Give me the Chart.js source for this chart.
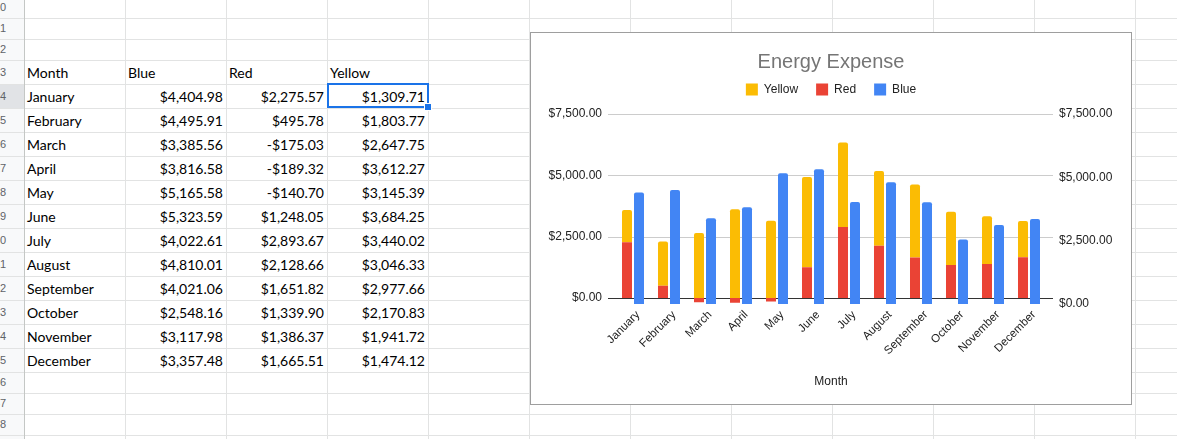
<!DOCTYPE html>
<html><head><meta charset="utf-8">
<script src="https://cdn.jsdelivr.net/npm/chart.js@4.4.1/dist/chart.umd.min.js"></script>
<style>
html,body{margin:0;padding:0;background:#fff;}
body{width:1177px;height:439px;overflow:hidden;position:relative;font-family:Lato,'Liberation Sans',Arial,sans-serif;}
.hl{position:absolute;left:0;width:1177px;height:1px;background:#e2e3e3;}
.vl{position:absolute;top:0;height:439px;width:1px;background:#e2e3e3;}
.rh{position:absolute;left:0;top:0;width:24px;height:439px;background:#f8f9fa;}
.rhs{position:absolute;left:0;width:24px;background:#e1e3e6;}
.rn{position:absolute;left:-21px;width:42px;text-align:center;font:11px 'Liberation Sans',Arial,sans-serif;color:#5f6368;}
.cell{position:absolute;height:24px;line-height:24px;font-size:14px;color:#000;white-space:nowrap;box-sizing:border-box;overflow:hidden;}
.l{text-align:left;padding-left:3px;}
.r{text-align:right;padding-right:3px;}
#sel{position:absolute;left:327px;top:83px;width:102px;height:25px;border:2px solid #1a73e8;box-sizing:border-box;}
#handle{position:absolute;left:424px;top:103px;width:8px;height:8px;background:#1a73e8;border:1px solid #fff;box-sizing:border-box;}
#chartBox{position:absolute;left:530px;top:32px;width:602px;height:373px;border:1px solid #9e9e9e;box-sizing:border-box;background:#fff;}
#c{display:block;}
</style></head>
<body>
<div id="sheet"></div>
<div id="chartBox"><canvas id="c" width="600" height="371"></canvas></div>
<script>
// ---- data ----
const months = ['January','February','March','April','May','June','July','August','September','October','November','December'];
const blueValues = [4404.98, 4495.91, 3385.56, 3816.58, 5165.58, 5323.59, 4022.61, 4810.01, 4021.06, 2548.16, 3117.98, 3357.48];
const redValues = [2275.57, 495.78, -175.03, -189.32, -140.70, 1248.05, 2893.67, 2128.66, 1651.82, 1339.90, 1386.37, 1665.51];
const yellowValues = [1309.71, 1803.77, 2647.75, 3612.27, 3145.39, 3684.25, 3440.02, 3046.33, 2977.66, 2170.83, 1941.72, 1474.12];
const leftTicks = [0, 2500, 5000, 7500];
const rightTicks = [0, 2500, 5000, 7500];
const legendOrder = ['Yellow', 'Red', 'Blue'];
const headers = ['Month', 'Blue', 'Red', 'Yellow'];
const rowNumbers = [20,21,22,23,24,25,26,27,28,29,30,31,32,33,34,35,36,37,38,39];

const fmt = v => (v < 0 ? '-' : '') + '$' + Math.abs(v).toLocaleString('en-US', {minimumFractionDigits: 2, maximumFractionDigits: 2});

// ---- spreadsheet background ----
(function buildSheet(){
  const sheet = document.getElementById('sheet');
  const add = (cls, style, text) => {
    const d = document.createElement('div');
    d.className = cls;
    Object.assign(d.style, style);
    if (text !== undefined) d.textContent = text;
    sheet.appendChild(d);
    return d;
  };
  add('rh', {});
  const rowTops = [];
  let y = -3;
  rowNumbers.forEach(n => {
    const h = (n >= 23 && n <= 35) ? 24 : 21;
    rowTops.push({n, top: y, h});
    y += h;
  });
  rowTops.forEach(r => { if (r.n === 24) add('rhs', {top: r.top + 'px', height: r.h + 'px'}); });
  rowTops.forEach(r => {
    add('hl', {top: (r.top + r.h) + 'px'});
    add('rn', {top: r.top + 'px', height: r.h + 'px', lineHeight: r.h + 'px'}, String(r.n));
  });
  for (let x = 125; x < 1177; x += 101) add('vl', {left: x + 'px'});
  add('vl', {left: '24px', background: '#c4c7c5'});
  const colLeft = [24, 125, 226, 327];
  const rowTop = n => rowTops.find(r => r.n === n).top + 1;
  headers.forEach((h, i) => add('cell l', {left: colLeft[i] + 'px', width: '101px', top: rowTop(23) + 'px'}, h));
  months.forEach((m, i) => {
    const t = rowTop(24 + i) + 'px';
    add('cell l', {left: '24px', width: '101px', top: t}, m);
    add('cell r', {left: '126px', width: '100px', top: t}, fmt(blueValues[i]));
    add('cell r', {left: '227px', width: '100px', top: t}, fmt(redValues[i]));
    add('cell r', {left: '328px', width: '100px', top: t}, fmt(yellowValues[i]));
  });
  const sel = document.createElement('div'); sel.id = 'sel'; sheet.appendChild(sel);
  const hd = document.createElement('div'); hd.id = 'handle'; sheet.appendChild(hd);
})();

// ---- chart ----
const chartFont = "'Liberation Sans', Arial, sans-serif";

const gridPlugin = {
  id: 'sheetGrid',
  beforeDatasetsDraw(chart) {
    const {ctx, chartArea: a, scales: {y}} = chart;
    ctx.save();
    leftTicks.forEach(v => {
      const py = Math.round(y.getPixelForValue(v)) + 0.5;
      ctx.beginPath();
      ctx.strokeStyle = v === 0 ? '#333333' : '#cccccc';
      ctx.lineWidth = 1;
      ctx.moveTo(a.left - 7, py);
      ctx.lineTo(a.right + 6, py);
      ctx.stroke();
    });
    ctx.restore();
  }
};

new Chart(document.getElementById('c'), {
  type: 'bar',
  data: {
    labels: months,
    datasets: [
      {label: 'Red', data: redValues, backgroundColor: '#ea4335', stack: 'ry', yAxisID: 'y', borderRadius: 0},
      {label: 'Yellow', data: yellowValues, backgroundColor: '#fbbc04', stack: 'ry', yAxisID: 'y',
        borderRadius: {topLeft: 2, topRight: 2, bottomLeft: 0, bottomRight: 0}},
      {label: 'Blue', data: blueValues, backgroundColor: '#4285f4', stack: 'b', yAxisID: 'y1',
        borderRadius: {topLeft: 2, topRight: 2, bottomLeft: 0, bottomRight: 0}}
    ]
  },
  options: {
    responsive: false,
    animation: false,
    devicePixelRatio: 1,
    layout: {padding: 0},
    datasets: {bar: {categoryPercentage: 0.6667, barPercentage: 0.8333}},
    plugins: {
      title: {
        display: true, text: 'Energy Expense', color: '#757575',
        font: {family: chartFont, size: 20, weight: 'normal', lineHeight: 0.35},
        padding: {top: 25.5, bottom: 0}
      },
      legend: {
        position: 'top',
        labels: {
          boxWidth: 12, boxHeight: 12, padding: 18, color: '#222222',
          font: {family: chartFont, size: 12},
          sort: (a, b) => legendOrder.indexOf(a.text) - legendOrder.indexOf(b.text)
        }
      },
      tooltip: {enabled: false}
    },
    scales: {
      x: {
        stacked: true,
        grid: {display: false, drawTicks: false},
        border: {display: false},
        afterFit: s => { s.height = 100; },
        ticks: {minRotation: 45, maxRotation: 45, autoSkip: false, padding: 4, labelOffset: 5, color: '#222222',
          font: {family: chartFont, size: 11.5}},
        title: {display: true, text: 'Month', color: '#222222', font: {family: chartFont, size: 12},
          padding: {top: 4, bottom: 14.8}}
      },
      y: {
        position: 'left', stacked: true, min: -245, max: 7846,
        afterBuildTicks: s => { s.ticks = leftTicks.map(v => ({value: v})); },
        afterFit: s => { s.width = 84; },
        grid: {display: false, drawTicks: false},
        border: {display: false},
        ticks: {padding: 13, color: '#222222', font: {family: chartFont, size: 12}, callback: v => fmt(v)}
      },
      y1: {
        position: 'right', stacked: true, min: 0, max: 7835,
        afterBuildTicks: s => { s.ticks = rightTicks.map(v => ({value: v})); },
        afterFit: s => { s.width = 84; },
        grid: {display: false, drawTicks: false},
        border: {display: false},
        ticks: {padding: 12, color: '#222222', font: {family: chartFont, size: 12}, callback: v => fmt(v)}
      }
    }
  },
  plugins: [gridPlugin]
});
</script>
</body></html>
